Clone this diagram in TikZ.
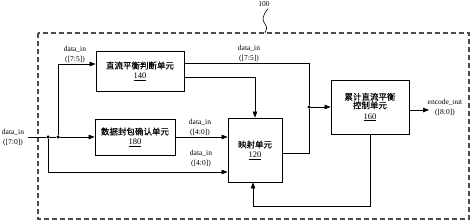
\documentclass[tikz,border=0pt]{standalone}
\usepackage{fontspec}
\setmainfont{Liberation Serif}
\newfontfamily\cjk[FakeBold=0.5]{Noto Sans CJK SC}
\usetikzlibrary{arrows.meta}
\begin{document}
\begin{tikzpicture}[x=1pt,y=-1pt,
  unitbox/.style={draw,line width=0.8pt,inner sep=0pt,align=center,font=\cjk\fontsize{8.5}{10.5}\selectfont},
  wire/.style={line width=0.7pt},
  arr/.style={wire,-{Triangle[length=6pt,width=4.5pt]}},
  lbl/.style={font=\fontsize{7.5}{10}\selectfont,align=center,inner sep=0pt},
  dot/.style={circle,fill,inner sep=0pt,minimum size=3.5pt}]
\useasboundingbox (0,0) rectangle (474,222);
% dashed enclosure
\draw[line width=1.3pt,draw=black!70,dash pattern=on 5pt off 3pt] (38,33) rectangle (469,219);
\node[lbl] (n100) at (264,4) {100};
\draw[line width=0.6pt] (n100.south) ++(4,2) .. controls (262,16) and (262,20) .. (265,24) .. controls (268,28) and (266,30) .. (265,33);
% units
\node[unitbox,minimum width=88pt,minimum height=40pt] (u140) at (140,71) {直流平衡判断单元\\[-1pt]{\fontspec{Liberation Serif}\underline{140}}};
\node[unitbox,minimum width=80pt,minimum height=36pt] (u180) at (135,137) {数据封包确认单元\\[-1pt]{\fontspec{Liberation Serif}\underline{180}}};
\node[unitbox,minimum width=54pt,minimum height=64pt] (u120) at (255,150) {映射单元\\[-1pt]{\fontspec{Liberation Serif}\underline{120}}};
\node[unitbox,minimum width=78pt,minimum height=54pt] (u160) at (370,107) {累计直流平衡\\[-2pt]控制单元\\[0pt]{\fontspec{Liberation Serif}\underline{160}}};
% junctions
\coordinate (in) at (28,137);
\node[dot] (j1) at (48,137) {};
\node[dot] (j2) at (58,137) {};
\node[dot] (j3) at (309,107) {};
\coordinate (out) at (429,110);
% input wiring
\draw[wire] (in) -- (j1) -- (j2);
\draw[arr] (j2) -- (u180.west);
\draw[arr] (j2) |- (u140.west |- 0,64);
\draw[arr] (j1) |- (u120.west |- 0,172);
\draw[arr] (u180.east) -- (u120.west |- u180.east);
% 140 outputs
\draw[wire] (u140.east |- 0,63) -| (j3);
\draw[wire] (j3) |- (u120.east |- 0,153);
\draw[arr] (u140.east |- 0,77) -| (u120.north);
\draw[arr] (j3) -- (u160.west |- j3);
% output
\draw[arr] (u160.east |- out) -- (out);
% feedback
\draw[arr] (u160.south) -- ++(0,72) -| ([xshift=-2pt]u120.south);
% labels
\node[lbl] (l1) at (13,138) {data\_in\\([7:0])};
\node[lbl] (l2) at (75,55) {data\_in\\([7:5])};
\node[lbl] (l3) at (249,54) {data\_in\\([7:5])};
\node[lbl] (l4) at (200,128) {data\_in\\([4:0])};
\node[lbl] (l5) at (201,159) {data\_in\\([4:0])};
\node[lbl] (l6) at (445,108) {encode\_out\\([8:0])};
\end{tikzpicture}
\end{document}
